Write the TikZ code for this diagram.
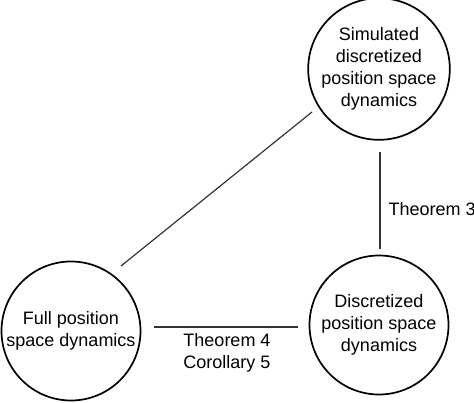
\documentclass[tikz,border=0pt]{standalone}
\usepackage{fontspec}
\setmainfont{Liberation Sans}
\begin{document}
\begin{tikzpicture}[x=1pt,y=-1pt,
  stage/.style={circle,draw=black,line width=1.7pt,minimum size=139pt,inner sep=0pt,align=center,font=\fontsize{18}{22}\selectfont},
  lbl/.style={align=center,inner sep=0pt,font=\fontsize{18}{22}\selectfont},
  link/.style={draw=black!80,line width=1.2pt}]
\useasboundingbox (0,0) rectangle (474,402);
\node[stage] (T) at (379,69) {Simulated\\discretized\\position space\\dynamics};
\node[stage] (D) at (379,325) {Discretized\\position space\\dynamics};
\node[stage] (F) at (71,331) {Full position\\space dynamics};
\draw[link] ([shift={(50,-65)}]F.center) -- ([shift={(-67,43)}]T.center);
\draw[link] ([shift={(1,83)}]T.center) coordinate (v1) -- ([shift={(1,-76)}]D.center) coordinate (v2);
\draw[link] ([shift={(13,-4)}]F.east) coordinate (h1) -- ([shift={(-11,2)}]D.west) coordinate (h2);
\node[lbl,anchor=base west] (t3) at (388.5,215) {Theorem 3};
\node[lbl] (t4) at (227,353) {Theorem 4\\Corollary 5};
\end{tikzpicture}
\end{document}
